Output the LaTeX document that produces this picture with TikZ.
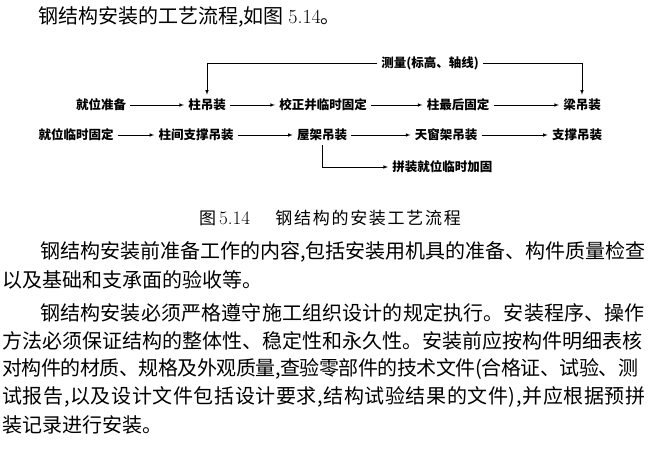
\documentclass[tikz,border=0pt]{standalone}
\usepackage{fontspec}
\newfontfamily\cjk{Noto Sans CJK SC}
\usetikzlibrary{positioning}
\tikzset{
  flowlabel/.style={font=\cjk\bfseries\fontsize{12.5}{13}\selectfont, inner sep=4pt},
  bodyline/.style={font=\cjk\fontsize{20}{20}\selectfont, anchor=west, inner sep=0pt},
}
\begin{document}
\begin{tikzpicture}[>=latex,line width=0.6pt,x=1pt,y=-1pt]
  \useasboundingbox (0,0) rectangle (651,449);
  % Text above
  \node[bodyline] (intro) at (38,17) {钢结构安装的工艺流程,如图 {\rmfamily 5.14}。};

  % Nodes
  \node[flowlabel] (prep) at (101,105) {就位准备};
  \node[flowlabel] (colLift) at (207,105) {柱吊装};
  \node[flowlabel] (align) at (323,105) {校正并临时固定};
  \node[flowlabel] (colFix) at (458,105) {柱最后固定};
  \node[flowlabel] (beamLift) at (582,105) {梁吊装};
  \node[flowlabel] (survey) at (430,63) {测量(标高、轴线)};

  \node[flowlabel] (tempFix) at (76,135) {就位临时固定};
  \node[flowlabel] (braceLift) at (196,135) {柱间支撑吊装};
  \node[flowlabel] (trussLift) at (322,135) {屋架吊装};
  \node[flowlabel] (skyLift) at (446,135) {天窗架吊装};
  \node[flowlabel] (supLift) at (577,135) {支撑吊装};
  \node[flowlabel, anchor=west] (assem) at (388,167) {拼装就位临时加固};

  % Arrows
  \draw[->] (prep) -- (colLift);
  \draw[->] (colLift) -- (align);
  \draw[->] (align) -- (colFix);
  \draw[->] (colFix) -- (beamLift);
  \draw[->] (survey.west) -| (colLift.north);
  \draw[->] (survey.east) -| (beamLift.north);
  \draw[->] (tempFix) -- (braceLift);
  \draw[->] (braceLift) -- (trussLift);
  \draw[->] (trussLift) -- (skyLift);
  \draw[->] (skyLift) -- (supLift);
  \draw[->] (trussLift.south) |- (assem.west);

  % Caption and text below
  \node[font=\cjk\fontsize{17}{17}\selectfont] (caption) at (330,218)
    {图\,{\rmfamily\fontsize{19}{19}\selectfont 5.14}\hspace{1.5em}{\addfontfeature{LetterSpace=10}钢结构的安装工艺流程}};
  \node[bodyline] (line1) at (40,252) {钢结构安装前准备工作的内容,包括安装用机具的准备、构件质量检查};
  \node[bodyline] (line2) at (2,280) {以及基础和支承面的验收等。};
  \node[bodyline] (line3) at (40,313) {\addfontfeature{LetterSpace=0.8}钢结构安装必须严格遵守施工组织设计的规定执行。安装程序、操作};
  \node[bodyline] (line4) at (2,341) {方法必须保证结构的整体性、稳定性和永久性。安装前应按构件明细表核};
  \node[bodyline] (line5) at (2,369) {\addfontfeature{LetterSpace=-2.5}对构件的材质、规格及外观质量,查验零部件的技术文件(合格证、试验、测};
  \node[bodyline] (line6) at (2,397) {\addfontfeature{LetterSpace=3}试报告,以及设计文件包括设计要求,结构试验结果的文件),并应根据预拼};
  \node[bodyline] (line7) at (2,425) {装记录进行安装。};
\end{tikzpicture}
\end{document}
